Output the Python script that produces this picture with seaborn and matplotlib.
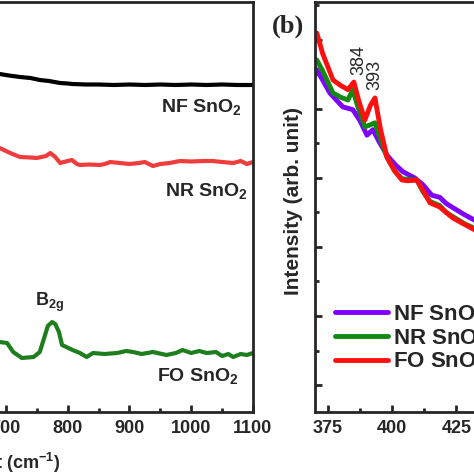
import matplotlib as mpl
mpl.use("Agg")
import matplotlib.pyplot as plt
import seaborn as sns
import pandas as pd
from matplotlib.ticker import MultipleLocator

# (a) Raman spectra, only the right end of the panel is visible
raman_x_nf = [690, 705, 723, 740, 755, 770, 788, 800, 808, 830, 850, 875, 900, 925,
              950, 975, 1000, 1025, 1050, 1075, 1100]
raman_y_nf = [338, 336.5, 335, 334, 332, 331, 329, 328.5, 328, 327.5, 327.5, 327, 327.5, 327,
              327.5, 327, 327.5, 327, 327.5, 327, 327]

raman_x_nr = [690, 707, 723, 740, 750, 765, 772, 780, 788, 800, 807, 815, 820, 835, 852,
              860, 869, 885, 900, 915, 925, 938, 950, 965, 982, 1000, 1020, 1035, 1050,
              1068, 1080, 1090, 1100]
raman_y_nr = [264, 259, 255, 254.5, 254, 256, 259, 255, 249, 251, 252, 248, 247, 247.5, 247,
              248, 250, 249, 248, 249, 250, 246, 248, 249, 251, 250.5, 251, 251, 250,
              249, 251, 248, 250]

raman_x_fo = [690, 702, 712, 726, 745, 755, 762, 768, 775, 780, 786, 791, 808, 820, 831,
              841, 860, 880, 895, 906, 920, 938, 960, 975, 986, 1000, 1013, 1025, 1040,
              1050, 1060, 1068, 1080, 1090, 1100]
raman_y_fo = [70, 69, 60, 54, 55, 60, 74, 86, 90, 88, 80, 67, 62, 59, 55,
              59, 58, 59, 61, 60, 58, 60, 57, 59, 62, 59, 61, 59, 60,
              56, 58, 55, 58, 57, 59]

# (b) absorption region
abs_x_nf = [370.7, 375.8, 380.8, 384.7, 387.5, 390.2, 392.5, 395, 398, 401, 404.2, 408.8,
            412, 415.4, 418.5, 421, 423.6, 428, 432, 436]
abs_y_nf = [4.57, 4.23, 4.03, 3.99, 3.83, 3.62, 3.70, 3.52, 3.33, 3.20, 3.09, 3.00,
            2.90, 2.75, 2.72, 2.63, 2.57, 2.47, 2.39, 2.31]

abs_x_nr = [370.7, 373, 377, 380, 382.8, 384.7, 386.5, 389.4, 391.5, 393.3, 395.5, 398, 401,
            403.8, 406, 409.6, 412, 414.7, 418.5, 421, 423.6, 428, 432, 436]
abs_y_nr = [4.71, 4.55, 4.23, 4.17, 4.13, 4.28, 4.05, 3.74, 3.77, 3.80, 3.55, 3.30, 3.10,
            2.99, 2.98, 2.97, 2.80, 2.66, 2.60, 2.50, 2.44, 2.34, 2.27, 2.19]

abs_x_fo = [370.7, 373, 377, 380, 382.8, 385.1, 387, 389.4, 391.5, 393.3, 395.5, 398, 401,
            403.8, 406, 409.6, 412, 414.7, 418.5, 421, 423.6, 428, 432, 436]
abs_y_fo = [5.10, 4.80, 4.42, 4.34, 4.28, 4.39, 4.12, 3.84, 4.05, 4.16, 3.70, 3.30, 3.10,
            2.97, 2.96, 2.97, 2.82, 2.64, 2.58, 2.50, 2.42, 2.33, 2.25, 2.17]

samples = ["NF SnO$_2$", "NR SnO$_2$", "FO SnO$_2$"]

sns.set_style("ticks")
plt.rcParams['font.family'] = ['Liberation Sans', 'DejaVu Sans']
plt.rcParams['font.weight'] = 'bold'
plt.rcParams['mathtext.fontset'] = 'custom'
plt.rcParams['mathtext.rm'] = 'Liberation Sans:bold'
plt.rcParams['mathtext.it'] = 'Liberation Sans:bold'
plt.rcParams['mathtext.bf'] = 'Liberation Sans:bold'
plt.rcParams['axes.linewidth'] = 2.0

W = 474.0
fig = plt.figure(figsize=(4.74, 4.74), dpi=100)
# left panel: 1100 at x=253px, 100 units = 61.8 px
axa = fig.add_axes([-241.4 / W, 62 / W, 494.4 / W, 410 / W])
# right panel: left spine at 315px, 25 units = 64.3 px
axb = fig.add_axes([315 / W, 62 / W, 334.4 / W, 410 / W])

# ---- panel (a)
sns.lineplot(x=raman_x_nf, y=raman_y_nf, ax=axa, color='black', lw=3, sort=False)
sns.lineplot(x=raman_x_nr, y=raman_y_nr, ax=axa, color='#F03C3C', lw=3, sort=False)
sns.lineplot(x=raman_x_fo, y=raman_y_fo, ax=axa, color='#1E7E1E', lw=3, sort=False)
axa.set_xlim(300, 1100)
axa.set_ylim(0, 410)
axa.set_yticks([])
axa.xaxis.set_major_locator(MultipleLocator(100))
axa.xaxis.set_minor_locator(MultipleLocator(50))
axa.tick_params(axis='x', which='major', direction='in', length=5, width=2,
                labelsize=13, pad=6)
axa.tick_params(axis='x', which='minor', direction='in', length=3, width=2)
for lab in axa.get_xticklabels():
    lab.set_fontweight('bold')
axa.set_xlabel("Raman Shift (cm$^{-1}$)", fontsize=13, fontweight='bold', ha='right')
axa.xaxis.set_label_coords((60 + 241.4) / 494.4, -0.095)

axa.text(1017, 305, samples[0], fontsize=14, ha='center', va='center')
axa.text(1025, 221, samples[1], fontsize=14, ha='center', va='center')
axa.text(1011, 36, samples[2], fontsize=14, ha='center', va='center')
axa.text(771, 110, "B$_{2g}$", fontsize=13, ha='center', va='center')

# ---- panel (b)
sns.lineplot(x=abs_x_nf, y=abs_y_nf, ax=axb, color='#8000FF', lw=3.5, sort=False,
             label=samples[0])
sns.lineplot(x=abs_x_nr, y=abs_y_nr, ax=axb, color='#128A12', lw=3.5, sort=False,
             label=samples[1])
sns.lineplot(x=abs_x_fo, y=abs_y_fo, ax=axb, color='#FF1010', lw=3.5, sort=False,
             label=samples[2])
axb.set_xlim(370, 500)
axb.set_ylim(-0.391, 5.55)
axb.xaxis.set_major_locator(MultipleLocator(25))
axb.xaxis.set_minor_locator(MultipleLocator(12.5))
axb.yaxis.set_major_locator(MultipleLocator(1))
axb.yaxis.set_minor_locator(MultipleLocator(0.5))
axb.tick_params(axis='both', which='major', direction='in', length=5, width=2,
                labelsize=13, pad=6)
axb.tick_params(axis='both', which='minor', direction='in', length=3, width=2)
axb.tick_params(axis='y', labelleft=False)
for lab in axb.get_xticklabels():
    lab.set_fontweight('bold')
axb.set_ylabel("Intensity (arb. unit)", fontsize=15, fontweight='bold')
axb.yaxis.set_label_coords(-0.035, 0.515)

axb.text(387.0, 4.71, "384", rotation=90, fontsize=13, fontweight='medium',
         ha='center', va='center')
axb.text(393.3, 4.49, "393", rotation=90, fontsize=13, fontweight='medium',
         ha='center', va='center')
axb.text(-0.081, 0.941, "(b)", transform=axb.transAxes, fontsize=19,
         family=['Liberation Serif', 'DejaVu Serif'], fontweight='bold',
         ha='center', va='center')

axb.legend(loc='center left', bbox_to_anchor=(0.0598, 0.18), frameon=False,
           fontsize=16, handlelength=2.4, handletextpad=0.2, labelspacing=0.06,
           borderpad=0, borderaxespad=0)

fig.savefig("out.png", dpi=100)
